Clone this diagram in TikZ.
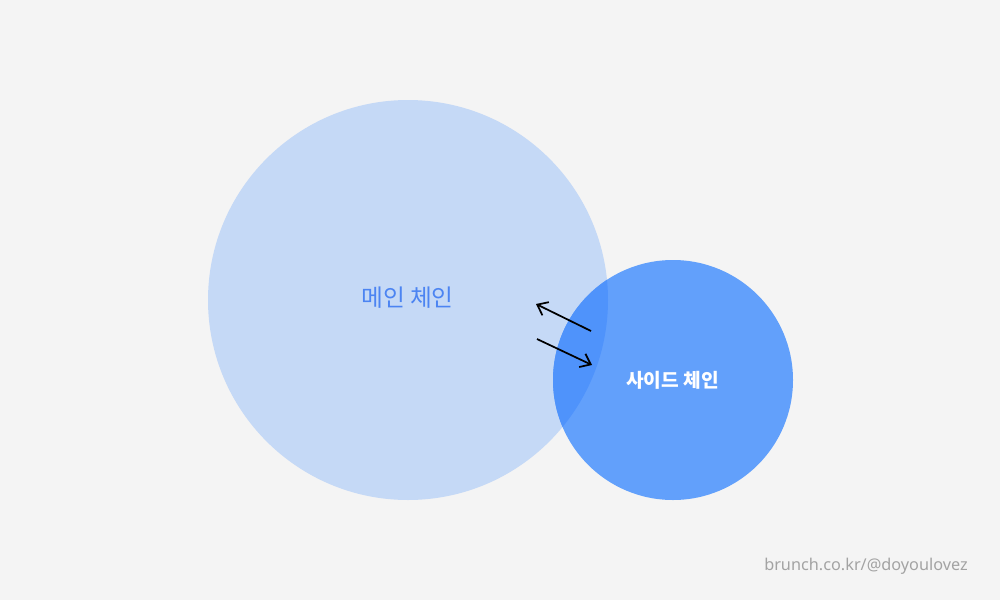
\documentclass[tikz,border=0pt]{standalone}
\usepackage{fontspec}
\setmainfont{Noto Sans}
\newfontfamily\kr{Noto Sans CJK KR}
\usetikzlibrary{arrows.meta}
\definecolor{bg}{HTML}{F4F4F4}
\definecolor{bigc}{HTML}{C5D9F6}
\definecolor{smallc}{HTML}{62A0FB}
\definecolor{overc}{HTML}{4F93FB}
\definecolor{maintxt}{HTML}{4C84F2}
\definecolor{wm}{HTML}{A3A3A3}
\tikzset{
  flow/.style={draw=black, line width=1.3pt, -{Straight Barb[length=7pt,width=11pt,line width=1.3pt]}},
}
\begin{document}
\begin{tikzpicture}[x=0.75pt,y=-0.75pt]
\fill[bg] (0,0) rectangle (1000,600);
\useasboundingbox (0,0) rectangle (1000,600);
\fill[bigc] (408,300) circle (200);
\fill[smallc] (673,380) circle (120);
\begin{scope}
\clip (408,300) circle (200);
\fill[overc] (673,380) circle (120);
\end{scope}
\node[font=\kr\fontsize{17.8pt}{19pt}\selectfont, text=maintxt] (main) at (407.5,298) {메인 체인};
\node[font=\kr\bfseries\fontsize{14.4pt}{16pt}\selectfont, text=white] (side) at (672.5,380) {사이드 체인};
\coordinate (a1s) at (591,331);
\coordinate (a1e) at (536,304);
\coordinate (a2s) at (537,339);
\coordinate (a2e) at (592,365);
\draw[flow] (a1s) -- (a1e);
\draw[flow] (a2s) -- (a2e);
\node[anchor=east, inner sep=0pt, font=\fontsize{12.2pt}{14pt}\selectfont, text=wm] (wmk) at (968,566) {brunch.co.kr/@doyoulovez};
\end{tikzpicture}
\end{document}
